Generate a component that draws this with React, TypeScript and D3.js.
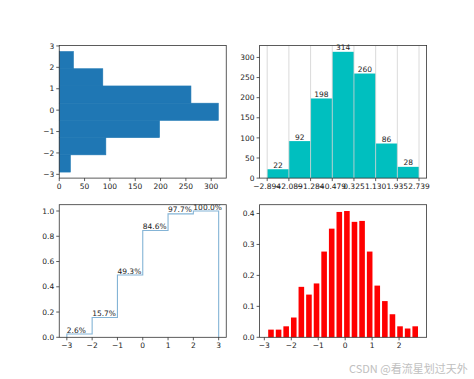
import React from "react";
import * as d3 from "d3";

const coarseEdges = [-2.894, -2.089, -1.284, -0.479, 0.325, 1.130, 1.935, 2.739];
const coarseCounts = [22, 92, 198, 314, 260, 86, 28];
const cdfEdges = [-3, -2, -1, 0, 1, 2, 3];
const cdfValues = [0.026, 0.157, 0.493, 0.846, 0.977, 1.0];
const cdfLabels = ["2.6%", "15.7%", "49.3%", "84.6%", "97.7%", "100.0%"];
const fineDensity = [0.0248, 0.0248, 0.0355, 0.0639, 0.163, 0.138, 0.174, 0.277, 0.351, 0.405,
  0.408, 0.373, 0.376, 0.277, 0.167, 0.117, 0.0745, 0.0355, 0.0284, 0.0355];
const leftXTicks = [0, 50, 100, 150, 200, 250, 300];
const leftYTicks = [-3, -2, -1, 0, 1, 2, 3];
const countTicks = [0, 50, 100, 150, 200, 250, 300];
const cdfXTicks = [-3, -2, -1, 0, 1, 2, 3];
const cdfYTicks = [0, 0.2, 0.4, 0.6, 0.8, 1.0];
const densXTicks = [-3, -2, -1, 0, 1, 2];
const densYTicks = [0, 0.1, 0.2, 0.3, 0.4];

const FONT = "DejaVu Sans";
const FS = 7.5;
const TXT = "#222";
const W = 167, H = 132.6;
const C1 = 59.25, C2 = 259.6, R1 = 45.5, R2 = 204.7;
const TL = 3;

function XAxis({ x, ticks, y0, fmt }: any) {
  return (
    <g>
      {ticks.map((t: number, i: number) => (
        <g key={i}>
          <line x1={x(t)} x2={x(t)} y1={y0} y2={y0 + TL} stroke="#333" strokeWidth={0.8} />
          <text x={x(t)} y={y0 + TL + 8} fontSize={FS} fontFamily={FONT} fill={TXT} textAnchor="middle">{fmt(t)}</text>
        </g>
      ))}
    </g>
  );
}

function YAxis({ y, ticks, x0, fmt }: any) {
  return (
    <g>
      {ticks.map((t: number, i: number) => (
        <g key={i}>
          <line x1={x0 - TL} x2={x0} y1={y(t)} y2={y(t)} stroke="#333" strokeWidth={0.8} />
          <text x={x0 - TL - 2} y={y(t) + 2.7} fontSize={FS} fontFamily={FONT} fill={TXT} textAnchor="end">{fmt(t)}</text>
        </g>
      ))}
    </g>
  );
}

function Frame({ x0, y0 }: any) {
  return <rect x={x0} y={y0} width={W} height={H} fill="none" stroke="#333" strokeWidth={0.8} />;
}

export default function App() {
  const intF = d3.format("d");
  const f1 = d3.format(".1f");
  const f3 = d3.format(".3f");

  const maxC = d3.max(coarseCounts)! * 1.05;
  const span = coarseEdges[coarseEdges.length - 1] - coarseEdges[0];
  const ylo = coarseEdges[0] - 0.05 * span, yhi = coarseEdges[coarseEdges.length - 1] + 0.05 * span;
  const x1 = d3.scaleLinear().domain([0, maxC]).range([C1, C1 + W]);
  const y1 = d3.scaleLinear().domain([ylo, yhi]).range([R1 + H, R1]);

  const x2 = d3.scaleLinear().domain([ylo, yhi]).range([C2, C2 + W]);
  const y2 = d3.scaleLinear().domain([0, maxC]).range([R1 + H, R1]);

  const x3 = d3.scaleLinear().domain([-3.3, 3.3]).range([C1, C1 + W]);
  const y3 = d3.scaleLinear().domain([0, 1.05]).range([R2 + H, R2]);
  const stepPts: [number, number][] = [[cdfEdges[0], 0]];
  cdfValues.forEach((v, i) => {
    stepPts.push([cdfEdges[i], v]);
    stepPts.push([cdfEdges[i + 1], v]);
  });
  stepPts.push([cdfEdges[cdfEdges.length - 1], 0]);
  const stepPath = d3.line<[number, number]>().x(d => x3(d[0])).y(d => y3(d[1]))(stepPts)!;

  const nFine = fineDensity.length;
  const fw = span / nFine;
  const x4 = d3.scaleLinear().domain([ylo, yhi]).range([C2, C2 + W]);
  const y4 = d3.scaleLinear().domain([0, d3.max(fineDensity)! * 1.05]).range([R2 + H, R2]);

  return (
    <svg width={474} height={379} style={{ position: "absolute", left: 0, top: 0, background: "#fff" }}>
      <rect x={0} y={0} width={474} height={379} fill="#fff" />
      <defs>
        <clipPath id="c2"><rect x={C2} y={R1} width={W} height={H} /></clipPath>
      </defs>
      {coarseCounts.map((c, i) => (
        <rect key={i} x={x1(0)} y={y1(coarseEdges[i + 1])} width={x1(c) - x1(0)}
          height={y1(coarseEdges[i]) - y1(coarseEdges[i + 1])} fill="#1f77b4" stroke="#1f77b4" strokeWidth={0.6} />
      ))}
      <Frame x0={C1} y0={R1} />
      <XAxis x={x1} ticks={leftXTicks} y0={R1 + H} fmt={intF} />
      <YAxis y={y1} ticks={leftYTicks} x0={C1} fmt={intF} />

      {coarseCounts.map((c, i) => (
        <rect key={i} x={x2(coarseEdges[i])} y={y2(c)} width={x2(coarseEdges[i + 1]) - x2(coarseEdges[i])}
          height={y2(0) - y2(c)} fill="#00bfbf" />
      ))}
      <g clipPath="url(#c2)">
        {coarseEdges.map((e, i) => (
          <line key={i} x1={x2(e)} x2={x2(e)} y1={R1} y2={R1 + H} stroke="#d0d0d0" strokeWidth={0.8} />
        ))}
      </g>
      {coarseCounts.map((c, i) => (
        <text key={i} x={(x2(coarseEdges[i]) + x2(coarseEdges[i + 1])) / 2} y={y2(c) - 1.5}
          fontSize={FS} fontFamily={FONT} fill={TXT} textAnchor="middle">{c}</text>
      ))}
      <Frame x0={C2} y0={R1} />
      <XAxis x={x2} ticks={coarseEdges} y0={R1 + H} fmt={f3} />
      <YAxis y={y2} ticks={countTicks} x0={C2} fmt={intF} />

      <path d={stepPath} fill="none" stroke="#1f77b4" strokeOpacity={0.55} strokeWidth={1.1} />
      {cdfValues.map((v, i) => (
        <text key={i} x={x3(cdfEdges[i])} y={y3(v) - 1.5} fontSize={FS} fontFamily={FONT} fill={TXT}>{cdfLabels[i]}</text>
      ))}
      <Frame x0={C1} y0={R2} />
      <XAxis x={x3} ticks={cdfXTicks} y0={R2 + H} fmt={intF} />
      <YAxis y={y3} ticks={cdfYTicks} x0={C1} fmt={f1} />

      {fineDensity.map((d, i) => {
        const a = x4(coarseEdges[0] + i * fw), b = x4(coarseEdges[0] + (i + 1) * fw);
        return <rect key={i} x={a + 1} y={y4(d)} width={b - a - 2} height={y4(0) - y4(d)} fill="#ff0000" />;
      })}
      <Frame x0={C2} y0={R2} />
      <XAxis x={x4} ticks={densXTicks} y0={R2 + H} fmt={intF} />
      <YAxis y={y4} ticks={densYTicks} x0={C2} fmt={f1} />

      <text x={349} y={373} fontSize={11} fontFamily="Noto Sans CJK SC" fill="#c0c0c0">CSDN @看流星划过天外</text>
    </svg>
  );
}
